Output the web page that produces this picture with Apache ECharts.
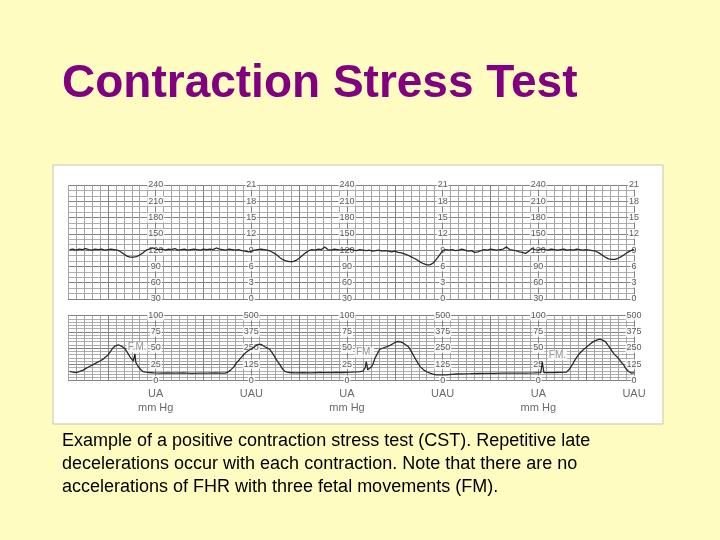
<!DOCTYPE html>
<html><head><meta charset="utf-8">
<script src="https://cdn.jsdelivr.net/npm/echarts@6/dist/echarts.min.js"></script>
<style>html,body{margin:0;padding:0;background:#FFFCC2;} #c{width:720px;height:540px;}</style>
</head><body><div id="c"></div>
<script>
const titleText = 'Contraction Stress Test';
const captionLines = [
  'Example of a positive contraction stress test (CST). Repetitive late',
  'decelerations occur with each contraction. Note that there are no',
  'accelerations of FHR with three fetal movements (FM).'
];
// FHR samples (bpm), one every fhrStep seconds starting at fhrStart
const fhrStart = 12, fhrStep = 4;
const fhrValues = [
  121,122,120,122,121,123,121,120,122,121,122,120,121,122,121,
  120,117,113,109,107,107,108,111,115,120,122,124,
  122,121,122,120,122,121,123,120,121,122,120,121,122,121,120,122,121,122,121,
  124,122,121,120,122,121,120,121,119,118,117,118,120,121,122,121,120,
  118,115,111,106,102,100,99,99,101,105,110,115,119,121,
  120,122,121,126,121,120,122,121,120,121,120,122,120,119,121,120,119,120,118,119,120,118,119,118,117,118,
  116,115,113,111,108,105,102,98,95,93,93,96,103,111,119,
  121,120,121,119,120,122,120,118,119,116,117,119,121,120,122,121,120,121,122,126,121,120,119,117,116,114,118,123,121,120,122,
  121,120,122,121,120,121,122,120,121,120,122,121,120,121,120,119,118,
  115,111,107,104,103,103,105,108,112,116,119,121
];
// Uterine activity (mm Hg): [seconds, value]
const uaPoints = [
  [12,14],[16,13],[20,12],[24,13.5],[29,16],[33,19],[37,21.6],[41,24],[45,26.7],[50,30],[54,32.8],[57,36],[60,39],[63,44],[66,49.6],[69,53],[71,54.8],[73,55],[75,53.7],[78,52],[81,49.7],[83,46],[85,42],[88,36],[90,33],[92,30],[93,36],[94,41],[95,28],[96,25],[98,21.5],[101,17],[104,13.8],[108,12.8],[112,12.3],[118,11.8],[125,11.3],[135,11.8],[145,11.2],[155,11.6],[165,11],[175,11.5],[185,11.2],[195,11.6],[203,11.2],[207,11.3],
  [210,12.5],[214,16],[218,21],[221,26.7],[225,32],[229,38],[234,44],[239,48],[244,52],[247,54.5],[250,55.8],[253,55],[257,52],[260,50],[263,48],[266,43],[269,37],[272,31],[276,24],[279,18],[282,14],[285,12.8],[288,12.3],[295,11.8],[305,12],[315,11.7],[325,12.3],[335,12.1],[345,12.5],[355,12.3],[365,12.8],[372,13.2],[376,13.8],[380,14.5],[382,15],[383,20],[384,29],[385,24],[386,16.4],[388,18],[391,21.5],[393,27],[395,34],[398,41],[401,48],[405,50],[410,52],[414,54],[418,57],[421,59],[424,60],[427,59.5],[430,58],[433,55.5],[437,52],[440,46],[443,39.4],[446,33],[449,26.7],[452,21],[456,16.4],[460,13.5],[464,11.3],[468,9.8],[472,8.7],[478,8.5],[485,8.7],[491,9.4],[497,10],
  [505,10.3],[515,10.5],[525,10.8],[535,11],[545,11],[555,11.3],[565,11.5],[575,11.3],[585,11.4],[595,11.6],[603,12],[604,20],[605,29],[606,20],[607,12],[612,12.2],[620,12.3],[628,12.5],[635,12.8],[638,16],[640,19],[643,25],[646,31.7],[649,37],[652,42],[656,47],[661,52],[665,56],[669,59.8],[673,62],[677,63.5],[680,62.5],[684,59.8],[687,55],[690,49.7],[693,44],[696,39.4],[699,36],[702,31.7],[704,28],[707,24],[710,18],[713,13.8],[715,12],[717,11.3],[720,12]
];
const minuteMarks = [60,120,180,240,300,360,420,480,540,600,660,720];
const fhrScaleCols = [120, 360, 600];
const kpaScaleCols = [240, 480, 720];
const fhrTicks = [30,60,90,120,150,180,210,240];
const kpaTicks = [0,3,6,9,12,15,18,21];
const uaTicks = [0,25,50,75,100];
const uauTicks = [0,125,250,375,500];
const fmMarks = [[96.7,50.6,'F.M.'],[382,43,'FM.'],[624,39,'FM.']];
const bottomLabelCols = [120,240,360,480,600,720];
const bottomLabels = ['UA\nmm Hg','UAU','UA\nmm Hg','UAU','UA\nmm Hg','UAU'];

const fhrData = fhrValues.map((v,i)=>[fhrStart + i*fhrStep, v]);
const fhrLabelData = [];
fhrScaleCols.forEach(c=>fhrTicks.forEach(v=>fhrLabelData.push([c,v,String(v)])));
kpaScaleCols.forEach(c=>fhrTicks.forEach((v,i)=>fhrLabelData.push([c,v,String(kpaTicks[i])])));
const uaLabelData = [];
fhrScaleCols.forEach(c=>uaTicks.forEach(v=>uaLabelData.push([c,v,String(v)])));
kpaScaleCols.forEach(c=>uaTicks.forEach((v,i)=>uaLabelData.push([c,v,String(uauTicks[i])])));

const FONT = '"Liberation Sans", Arial, Helvetica, sans-serif';
const minorCol = '#a4a4a4', majorCol = '#828282';

function xAx(gi, withLabels){
  return {
    type:'value', gridIndex:gi, min:10, max:720, interval:10,
    axisLine:{show:false}, axisTick:{show:false},
    axisLabel: withLabels ? {
      show:true, customValues: bottomLabelCols, margin:6,
      color:'#6a6a6a', fontSize:11, fontFamily:FONT, lineHeight:14,
      formatter: v => bottomLabels[bottomLabelCols.indexOf(v)] || ''
    } : {show:false},
    splitLine:{show:true, lineStyle:{color:minorCol, width:1}}
  };
}
function yAx(gi, min, max, interval, minorN){
  return {
    type:'value', gridIndex:gi, min, max, interval,
    axisLine:{show:false}, axisTick:{show:false}, axisLabel:{show:false},
    splitLine:{show:true, lineStyle:{color:majorCol, width:1}},
    minorTick:{show:false, splitNumber:minorN},
    minorSplitLine:{show:true, lineStyle:{color:minorCol, width:0.9}}
  };
}
const tickLabel = {
  show:true, position:'inside', formatter: p => p.value[2],
  fontSize:9, fontFamily:FONT, color:'#333', backgroundColor:'#fff', padding:[1,1,0,1]
};
function minuteLines(){
  return { silent:true, symbol:'none', z:1, label:{show:false},
    lineStyle:{color:majorCol, width:1, type:'solid'},
    data: minuteMarks.map(m=>({xAxis:m})) };
}
const hidden = {color:'rgba(0,0,0,0)'};

const chart = echarts.init(document.getElementById('c'), null, {renderer:'canvas'});
chart.setOption({
  backgroundColor:'#FFFCC2',
  animation:false,
  graphic:[
    {type:'rect', z:-100, shape:{x:53, y:165, width:610, height:259},
     style:{fill:'#ffffff', stroke:'#c9c7a4', lineWidth:1}},
    {type:'text', x:62, y:84, style:{text:titleText, fill:'#800080',
      font:'bold 46px ' + FONT, verticalAlign:'middle'}},
    {type:'text', x:62, y:464, style:{text:captionLines.join('\n'), fill:'#000',
      font:'18px ' + FONT, lineHeight:23, verticalAlign:'middle'}}
  ],
  grid:[
    {left:68, top:185, width:566, height:114},
    {left:68, top:315.5, width:566, height:65}
  ],
  xAxis:[xAx(0,false), xAx(1,true)],
  yAxis:[yAx(0,30,240,30,3), yAx(1,0,100,25,5)],
  series:[
    {type:'line', xAxisIndex:0, yAxisIndex:0, data:[], markLine:minuteLines()},
    {type:'line', xAxisIndex:1, yAxisIndex:1, data:[], markLine:minuteLines()},
    {type:'scatter', xAxisIndex:0, yAxisIndex:0, data:fhrLabelData, symbolSize:1, z:4,
     itemStyle:hidden, label:tickLabel},
    {type:'scatter', xAxisIndex:1, yAxisIndex:1, data:uaLabelData, symbolSize:1, z:4,
     itemStyle:hidden, label:tickLabel},
    {type:'scatter', xAxisIndex:1, yAxisIndex:1, data:fmMarks, symbolSize:1, z:4,
     itemStyle:hidden,
     label:{show:true, position:'inside', formatter:p=>p.value[2], fontSize:10, fontFamily:FONT,
       color:'#7a7a7a', backgroundColor:'#fff', padding:[0,1]}},
    {type:'line', xAxisIndex:0, yAxisIndex:0, data:fhrData, showSymbol:false, z:8,
     lineStyle:{color:'#2a2a2a', width:1.3}},
    {type:'line', xAxisIndex:1, yAxisIndex:1, data:uaPoints, showSymbol:false, z:8,
     lineStyle:{color:'#2a2a2a', width:1.3}}
  ]
});
</script></body></html>
